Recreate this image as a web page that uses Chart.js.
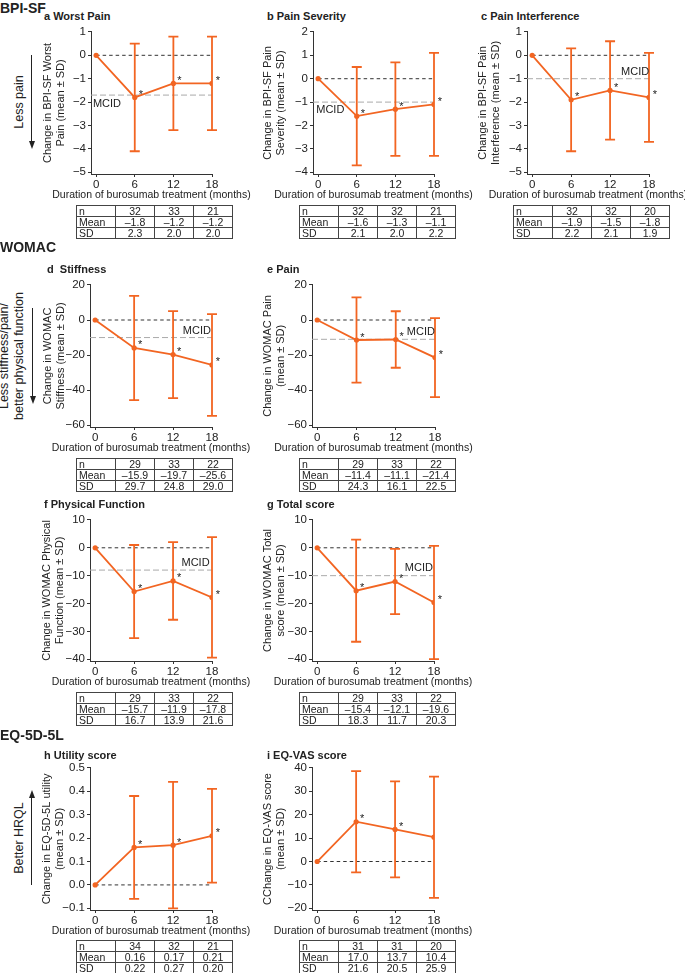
<!DOCTYPE html>
<html lang="en">
<head>
  <meta charset="UTF-8">
  <title>Burosumab PRO outcomes</title>
  <script src="https://cdn.jsdelivr.net/npm/chart.js"></script>
  <style>
    body { margin: 0; background: #fff; font-family: "Liberation Sans", Arial, sans-serif; color: #222; }
    #page { position: relative; width: 685px; height: 973px; overflow: hidden; }
    .abs { position: absolute; white-space: pre; }
    .section { font-weight: bold; font-size: 14px; transform: translateY(-50%); }
    .ptitle { font-weight: bold; font-size: 11px; transform: translateY(-50%); }
    .xtitle { font-size: 10.5px; transform: translate(-50%, -50%); }
    .side { font-size: 12.5px; transform: translate(-50%, -50%) rotate(-90deg); text-align: center; line-height: 15px; }
    .vline { position: absolute; width: 0; border-left: 1px solid #222; }
    .head-down, .head-up { position: absolute; width: 0; height: 0; border-left: 3px solid transparent; border-right: 3px solid transparent; }
    .head-down { border-top: 8px solid #222; }
    .head-up { border-bottom: 8px solid #222; }
    table.t { position: absolute; border-collapse: collapse; table-layout: fixed; font-size: 10.5px; }
    table.t td { border: 1px solid #444; width: 38px; height: 10px; line-height: 10px; padding: 0; text-align: center; overflow: hidden; }
    table.t td:first-child { text-align: left; padding-left: 2px; width: 36px; }
    canvas { position: absolute; }
  </style>
</head>
<body>
<div id="page"></div>
<script>
  // time points (months of burosumab treatment)
  const months = [0, 6, 12, 18];
  const baseline = 0;

  // a BPI-SF Worst Pain
  const worstN = [32, 33, 21];
  const worstMean = [-1.8, -1.2, -1.2];
  const worstSD = [2.3, 2.0, 2.0];
  const worstMCID = -1.7;
  // b BPI-SF Pain Severity
  const severityN = [32, 32, 21];
  const severityMean = [-1.6, -1.3, -1.1];
  const severitySD = [2.1, 2.0, 2.2];
  const severityMCID = -1;
  // c BPI-SF Pain Interference
  const interfN = [32, 32, 20];
  const interfMean = [-1.9, -1.5, -1.8];
  const interfSD = [2.2, 2.1, 1.9];
  const interfMCID = -1;
  // d WOMAC Stiffness
  const stiffN = [29, 33, 22];
  const stiffMean = [-15.9, -19.7, -25.6];
  const stiffSD = [29.7, 24.8, 29.0];
  const stiffMCID = -10;
  // e WOMAC Pain
  const womacPainN = [29, 33, 22];
  const womacPainMean = [-11.4, -11.1, -21.4];
  const womacPainSD = [24.3, 16.1, 22.5];
  const womacPainMCID = -11;
  // f WOMAC Physical Function
  const physN = [29, 33, 22];
  const physMean = [-15.7, -11.9, -17.8];
  const physSD = [16.7, 13.9, 21.6];
  const physMCID = -8;
  // g WOMAC Total score
  const totalN = [29, 33, 22];
  const totalMean = [-15.4, -12.1, -19.6];
  const totalSD = [18.3, 11.7, 20.3];
  const totalMCID = -10;
  // h EQ-5D-5L Utility score
  const utilityN = [34, 32, 21];
  const utilityMean = [0.16, 0.17, 0.21];
  const utilitySD = [0.22, 0.27, 0.20];
  // i EQ-VAS score
  const vasN = [31, 31, 20];
  const vasMean = [17.0, 13.7, 10.4];
  const vasSD = [21.6, 20.5, 25.9];

  // significance markers at 6, 12, 18 months
  const starsAll = [true, true, true];
  const starsVas = [true, true, false];

  // y axis ticks: [low, high, step]
  const ticks1 = [-5, 1, 1];
  const ticks2 = [-4, 2, 1];
  const ticksWomac = [-60, 20, 20];
  const ticksWomac2 = [-40, 10, 10];
  const ticksUtility = [-0.1, 0.5, 0.1];
  const ticksVas = [-20, 40, 10];

  const orange = '#f26522';
  Chart.defaults.font.family = '"Liberation Sans", Arial, sans-serif';
  Chart.defaults.font.size = 11;
  Chart.defaults.color = '#222';

  const panels = [
    { title: 'a Worst Pain', yTitle: ['Change in BPI-SF Worst', 'Pain (mean \u00b1 SD)'],
      n: worstN, mean: worstMean, sd: worstSD, mcid: worstMCID, stars: starsAll, yt: ticks1, dec: 0, tdec: 1,
      mcidLabel: { x: -0.5, y: -2.1 },
      box: { axisX: 91, rightX: 212, topY: 31, baseY: 174, titleX: 48, tableX: 76, tableY: 205, headY: 16, headX: 44 } },
    { title: 'b Pain Severity', yTitle: ['Change in BPI-SF Pain', 'Severity (mean \u00b1 SD)'],
      n: severityN, mean: severityMean, sd: severitySD, mcid: severityMCID, stars: starsAll, yt: ticks2, dec: 0, tdec: 1,
      mcidLabel: { x: -0.3, y: -1.35 },
      box: { axisX: 313, rightX: 434, topY: 31, baseY: 174, titleX: 268, tableX: 299, tableY: 205, headY: 16, headX: 267 } },
    { title: 'c Pain Interference', yTitle: ['Change in BPI-SF Pain', 'Interference (mean \u00b1 SD)'],
      n: interfN, mean: interfMean, sd: interfSD, mcid: interfMCID, stars: starsAll, yt: ticks1, dec: 0, tdec: 1,
      mcidLabel: { x: 13.7, y: -0.72 },
      box: { axisX: 527, rightX: 649, topY: 31, baseY: 174, titleX: 483, tableX: 513, tableY: 205, headY: 16, headX: 481 } },
    { title: 'd  Stiffness', yTitle: ['Change in WOMAC', 'Stiffness (mean \u00b1 SD)'],
      n: stiffN, mean: stiffMean, sd: stiffSD, mcid: stiffMCID, stars: starsAll, yt: ticksWomac, dec: 0, tdec: 1,
      mcidLabel: { x: 13.5, y: -6.1 },
      box: { axisX: 90, rightX: 212, topY: 284, baseY: 427, titleX: 48, tableX: 76, tableY: 458, headY: 269, headX: 47 } },
    { title: 'e Pain', yTitle: ['Change in WOMAC Pain', '(mean \u00b1 SD)'],
      n: womacPainN, mean: womacPainMean, sd: womacPainSD, mcid: womacPainMCID, stars: starsAll, yt: ticksWomac, dec: 0, tdec: 1,
      mcidLabel: { x: 13.7, y: -6.6 },
      box: { axisX: 312, rightX: 435, topY: 284, baseY: 427, titleX: 268, tableX: 299, tableY: 458, headY: 269, headX: 267 } },
    { title: 'f Physical Function', yTitle: ['Change in WOMAC Physical', 'Function (mean \u00b1 SD)'],
      n: physN, mean: physMean, sd: physSD, mcid: physMCID, stars: starsAll, yt: ticksWomac2, dec: 0, tdec: 1,
      mcidLabel: { x: 13.3, y: -5.5 },
      box: { axisX: 90, rightX: 212, topY: 519, baseY: 661, titleX: 47, tableX: 76, tableY: 692, headY: 504, headX: 44 } },
    { title: 'g Total score', yTitle: ['Change in WOMAC Total', 'score (mean \u00b1 SD)'],
      n: totalN, mean: totalMean, sd: totalSD, mcid: totalMCID, stars: starsAll, yt: ticksWomac2, dec: 0, tdec: 1,
      mcidLabel: { x: 13.5, y: -7.2 },
      box: { axisX: 312, rightX: 434, topY: 519, baseY: 661, titleX: 268, tableX: 299, tableY: 692, headY: 504, headX: 267 } },
    { title: 'h Utility score', yTitle: ['Change in EQ-5D-5L utility', '(mean \u00b1 SD)'],
      n: utilityN, mean: utilityMean, sd: utilitySD, mcid: null, stars: starsAll, yt: ticksUtility, dec: 1, tdec: 2,
      box: { axisX: 90, rightX: 212, topY: 767, baseY: 910, titleX: 47, tableX: 76, tableY: 940, headY: 755, headX: 44 } },
    { title: 'i EQ-VAS score', yTitle: ['CChange in EQ-VAS score', '(mean \u00b1 SD)'],
      n: vasN, mean: vasMean, sd: vasSD, mcid: null, stars: starsVas, yt: ticksVas, dec: 0, tdec: 1,
      box: { axisX: 312, rightX: 434, topY: 767, baseY: 910, titleX: 268, tableX: 299, tableY: 940, headY: 755, headX: 267 } }
  ];

  const page = document.getElementById('page');

  function addText(cls, text, left, top) {
    const d = document.createElement('div');
    d.className = 'abs ' + cls;
    d.textContent = text;
    d.style.left = left + 'px';
    d.style.top = top + 'px';
    page.appendChild(d);
    return d;
  }

  function arrow(x, y1, y2, down) {
    const l = document.createElement('div');
    l.className = 'vline';
    l.style.left = x + 'px';
    l.style.top = (down ? y1 : y1 + 7) + 'px';
    l.style.height = (y2 - y1 - 7) + 'px';
    page.appendChild(l);
    const h = document.createElement('div');
    h.className = down ? 'head-down' : 'head-up';
    h.style.left = (x - 2.5) + 'px';
    h.style.top = (down ? y2 - 8 : y1) + 'px';
    page.appendChild(h);
  }

  const fmt = (v, d) => v.toFixed(d).replace('-', '\u2013');

  function makeTable(p) {
    const t = document.createElement('table');
    t.className = 't';
    t.style.left = p.box.tableX + 'px';
    t.style.top = p.box.tableY + 'px';
    const rows = [['n', p.n.map(String)], ['Mean', p.mean.map(v => fmt(v, p.tdec))], ['SD', p.sd.map(v => fmt(v, p.tdec))]];
    rows.forEach(([label, vals]) => {
      const tr = document.createElement('tr');
      [label, ...vals].forEach(v => {
        const td = document.createElement('td');
        td.textContent = v;
        tr.appendChild(td);
      });
      t.appendChild(tr);
    });
    page.appendChild(t);
  }

  function makeChart(p) {
    const b = p.box;
    const cl = b.titleX - 9, ct = b.topY - 8;
    const cw = b.rightX + 22 - cl, ch = b.baseY + 24 - ct;
    const canvas = document.createElement('canvas');
    canvas.width = cw; canvas.height = ch;
    canvas.style.left = cl + 'px'; canvas.style.top = ct + 'px';
    canvas.style.width = cw + 'px'; canvas.style.height = ch + 'px';
    page.appendChild(canvas);

    const [low, high, step] = p.yt;
    const yTicks = [];
    for (let v = low; v <= high + step / 2; v += step) yTicks.push(+v.toFixed(3));
    const means = [baseline, ...p.mean];

    const datasets = [
      { data: months.map((m, i) => ({ x: m, y: means[i] })), borderColor: orange, backgroundColor: orange,
        borderWidth: 1.8, pointRadius: 2.6, pointBorderWidth: 0 },
      { data: [{ x: 0, y: 0 }, { x: 18, y: 0 }], borderColor: '#333', borderWidth: 1, borderDash: [3.5, 3], pointRadius: 0 }
    ];
    if (p.mcid !== null) {
      datasets.push({ data: [{ x: -0.8, y: p.mcid }, { x: 18, y: p.mcid }], borderColor: '#aaa', borderWidth: 1,
        borderDash: [6, 3], pointRadius: 0 });
    }

    const extras = {
      id: 'extras',
      afterDatasetsDraw(chart) {
        const { ctx, scales: { x, y } } = chart;
        ctx.save();
        ctx.strokeStyle = orange;
        ctx.lineWidth = 1.8;
        p.mean.forEach((m, i) => {
          const px = x.getPixelForValue(months[i + 1]);
          const top = y.getPixelForValue(m + p.sd[i]);
          const bot = y.getPixelForValue(m - p.sd[i]);
          ctx.beginPath();
          ctx.moveTo(px, top); ctx.lineTo(px, bot);
          ctx.moveTo(px - 5, top); ctx.lineTo(px + 5, top);
          ctx.moveTo(px - 5, bot); ctx.lineTo(px + 5, bot);
          ctx.stroke();
        });
        ctx.fillStyle = '#222';
        ctx.font = '11px "Liberation Sans", Arial, sans-serif';
        ctx.textAlign = 'center';
        ctx.textBaseline = 'alphabetic';
        p.mean.forEach((m, i) => {
          if (!p.stars[i]) return;
          ctx.fillText('*', x.getPixelForValue(months[i + 1]) + 6, y.getPixelForValue(m) + 0.5);
        });
        if (p.mcidLabel) {
          ctx.textAlign = 'left';
          ctx.textBaseline = 'middle';
          ctx.font = '11px "Liberation Sans", Arial, sans-serif';
          ctx.fillText('MCID', x.getPixelForValue(p.mcidLabel.x), y.getPixelForValue(p.mcidLabel.y));
        }
        ctx.restore();
      }
    };

    new Chart(canvas, {
      type: 'line',
      data: { datasets },
      options: {
        responsive: false,
        animation: false,
        layout: { padding: { left: 0, top: 8, right: 22, bottom: 0 } },
        plugins: { legend: { display: false }, tooltip: { enabled: false } },
        scales: {
          x: {
            type: 'linear', min: -0.8, max: 18,
            afterBuildTicks: s => { s.ticks = months.map(v => ({ value: v })); },
            afterFit: s => { s.height = 24; },
            ticks: { padding: 1, font: { size: 11.5 }, callback: v => String(v) },
            grid: { drawOnChartArea: false, drawTicks: true, tickLength: 3, color: '#333' },
            border: { display: true, color: '#333', width: 1 }
          },
          y: {
            min: low - (high - low) * 0.012, max: high,
            afterBuildTicks: s => { s.ticks = yTicks.map(v => ({ value: v })); },
            afterFit: s => { s.width = b.axisX - cl; },
            ticks: { padding: 2, font: { size: 11.5 }, callback: v => v.toFixed(p.dec).replace('-', '\u2212') },
            grid: { drawOnChartArea: false, drawTicks: true, tickLength: 3, color: '#333' },
            border: { display: true, color: '#333', width: 1 },
            title: { display: true, text: p.yTitle, font: { size: 11 }, padding: { top: 2.4, bottom: 0 } }
          }
        }
      },
      plugins: [extras]
    });

    addText('xtitle', 'Duration of burosumab treatment (months)', (b.axisX + b.rightX) / 2, b.baseY + 20);
    addText('ptitle', p.title, b.headX, b.headY);
    makeTable(p);
  }

  panels.forEach(makeChart);

  // section headers and direction annotations
  addText('section', 'BPI-SF', 0, 8);
  addText('section', 'WOMAC', 0, 247);
  addText('section', 'EQ-5D-5L', 0, 735);
  addText('side', 'Less pain', 19, 102);
  arrow(31, 55, 149, true);
  addText('side', 'Less stiffness/pain/\nbetter physical function', 12, 356);
  arrow(32, 308, 404, true);
  addText('side', 'Better HRQL', 19, 838);
  arrow(31, 790, 885, false);
</script>
</body>
</html>
